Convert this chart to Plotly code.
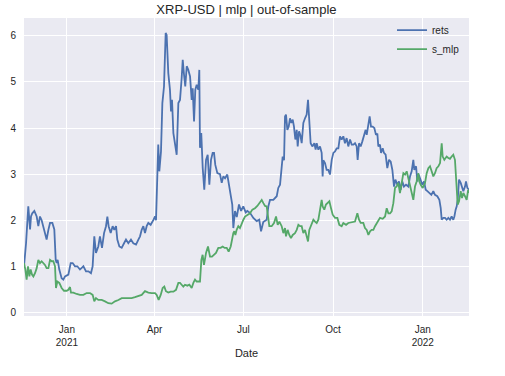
import pandas as pd
import plotly.graph_objects as go

START = "2020-11-18"

rets_day = [0, 2.1, 4.4, 6.2, 7.2, 8.5, 10.6, 13, 14.7, 16.4, 18.1, 19.8, 21.5, 23.2, 25, 26.7, 29.1, 31.1,
            32.5, 33.5, 34.5, 36.2, 38.6, 40.3, 42.1, 45.5, 47.9, 49.9, 52.3, 54.7, 57.4, 60.9, 63.6, 66,
            68.7, 70.4, 72.1, 73.8, 76.2, 77.9, 80, 82.1, 84.1, 85.5, 86.8, 88.9, 90.9, 92.6, 94.4, 95.7,
            97.8, 100.2, 102.6, 104.6, 107, 109.7, 112.1, 114.9, 117.3, 119, 120.7, 122.4, 124.1, 125.8,
            127.5, 129.9, 132.6, 134.4, 135.4,
            137.7, 138.8, 140.5, 141.9, 143.6, 145.3, 146.3, 148, 149.7, 150.8, 151.8, 153.2, 154.9, 156.6,
            158.3, 160, 161.7, 162.8, 164.1, 165.4, 166.9, 168.5, 170.3, 172, 173, 174.4, 175.7, 177.1,
            178.8, 179.8, 180.5, 181.8, 183.3, 184.9, 186.7, 188.4, 190.1, 191.8, 193.5, 194.9, 196.2,
            198.3, 201, 202.8, 204.4, 206.2, 208.5, 210.3, 212, 213.6, 214.7, 216.4, 218.2, 220.5, 222.6,
            224.9, 227.4, 229, 231.8, 235.2, 238.7, 241.3, 243.1, 245.4, 248.9, 250.6, 252.3, 255.7, 259.2,
            260.8,
            262.6, 264.3, 265.3, 266.7, 267.7, 268.7, 270.1, 271.5, 272.8, 274.2, 275.6, 276.9, 278.3,
            279.7, 280.7, 282.1, 283.4, 284.8, 286.5, 288.2, 289.9, 291.3, 292.3, 294, 295.7, 297.8, 299.1,
            300.2, 301.9, 303.6, 305.3, 306.3, 307, 308.7, 310.4, 312.1, 313.8, 315.6, 317.3, 319, 320.7,
            322.4, 324.1, 325.8, 327.5, 329.2, 330.9, 332.6, 334.4, 336.1, 337.8, 339.5, 341.2, 342.2,
            343.6, 345.3, 347, 348.7, 350.4, 351.5, 353.2, 354.5, 355.9, 357.6, 359.3, 361, 362.4, 363.4,
            365.1, 366.2, 367.9, 369.2, 370.9, 372.6, 374.4, 376.1, 377.8, 379.5, 380.9, 382.9, 384.6,
            386.3, 388, 389.7, 391.8, 394.2, 395.9, 397.6, 399.3, 400.3, 402.1, 403.4, 404.8, 406.8, 408.5,
            410.3, 412, 413.7, 415.7, 417.8, 419.8, 421.5, 423.9, 426, 427.4, 428.4, 430.1, 431.8, 433.5,
            435.2, 436.9, 438.6, 440.3, 441.4, 442.7, 443.8, 444.8, 446.2, 447.9, 449.2, 450.6, 452.3,
            453.3, 454.7, 456.4]
rets_val = [1.0, 1.5, 2.3, 1.8, 2.08, 2.15, 2.2, 2.08, 1.87, 2.08, 2.0, 1.87, 1.72, 1.58, 1.79, 1.94, 1.94, 1.8,
            1.14, 1.07, 1.14, 0.93, 0.74, 0.71, 0.78, 0.82, 1.07, 1.07, 1.0, 1.0, 0.93, 1.0, 0.89, 0.89,
            0.85, 1.0, 1.65, 1.29, 1.43, 1.65, 1.4, 1.72, 1.87, 2.08, 1.87, 1.72, 1.87, 1.79, 1.87, 1.58,
            1.43, 1.4, 1.5, 1.58, 1.5, 1.58, 1.5, 1.47, 1.58, 1.65, 1.79, 1.87, 1.72, 1.87,
            1.94, 1.9, 2.0, 2.08, 2.0,
            3.64, 3.06, 3.49, 4.54, 4.9, 6.06, 6.02, 5.19, 4.83, 4.36, 4.61, 3.89, 3.67, 3.42,
            4.54, 4.61, 5.08, 5.48, 5.16, 4.9, 5.34, 5.26, 5.12, 4.61, 4.86, 4.14, 4.83, 4.94,
            4.83, 5.26, 3.57, 3.89, 3.13, 2.66, 3.31, 3.42, 2.77, 3.31, 3.46, 3.46, 3.2,
            3.02, 3.0, 2.81, 2.95, 2.91, 2.99, 2.77, 2.59, 2.34, 1.83, 2.2, 2.07, 2.34, 2.2,
            2.3, 2.17, 2.2, 2.16, 2.05, 1.98, 2.01, 1.76, 1.96, 2.01, 2.3, 2.44, 2.44, 2.52,
            2.7,
            2.77, 3.09, 3.38, 3.3, 4.25, 4.29, 3.96, 4.03, 4.21, 4.11, 4.18, 4.03, 3.75,
            3.96, 3.6, 3.93, 3.85, 3.67, 4.11, 4.21, 4.29, 4.61, 4.18, 3.67, 3.6, 3.67, 3.53,
            3.67, 3.53, 3.6, 3.46, 2.95, 3.3, 3.24, 3.09, 3.09, 2.99, 3.31, 3.46, 3.49, 3.56,
            3.56, 3.82, 3.75, 3.82, 3.67, 3.78, 3.6, 3.75, 3.64, 3.64, 3.67, 3.6, 3.31,
            3.67, 3.6, 3.71, 3.82, 3.96, 3.85, 4.03, 4.25, 4.03, 4.03, 4.0, 3.85, 3.88, 3.6,
            3.64, 3.46, 3.56, 3.46, 3.42, 3.13, 3.31, 3.27, 3.09, 2.73, 2.88, 2.77, 2.84,
            2.66, 2.84, 2.73, 2.77, 2.73, 2.95, 3.06, 3.31, 3.09, 3.17, 2.84, 2.99, 2.88, 2.77,
            2.84, 2.66, 2.63, 2.59, 2.55, 2.63, 2.55, 2.52, 2.44, 2.26, 2.01, 2.05, 2.05, 2.01,
            2.05, 2.01, 2.08, 2.01, 2.08, 2.23, 2.3, 2.44, 2.88, 2.81, 2.73, 2.63, 2.73,
            2.84, 2.7, 2.66]

mlp_day = [0, 1.4, 2.7, 4.1, 5.5, 6.8, 8.2, 9.6, 11.3, 13, 14.7, 16.4, 18.1, 19.8, 21.5, 23.2, 25, 26.7, 28.4,
           30.1, 31.8, 32.8, 34.2, 36.2, 38.6, 41, 43.8, 45.5, 47.2, 48.2, 50.6, 54, 57.4, 60.9, 64.3, 67.7,
           70.4, 72.1, 73.8, 76.2, 79.7, 83.1, 86.5, 89.9, 93.3, 96.8, 100.2, 103.6, 107, 110.4, 113.8,
           117.3, 120.7, 124.1, 127.5, 130.9, 134.4, 136.1, 138.1, 140.2, 142.2, 143.9, 145.6, 148, 150.4,
           153.2, 155.9, 158.3, 160, 161.7, 163.4, 165.1, 167.5, 169.6, 172, 173.7, 175.4, 177.1, 178.8,
           180.5, 181.9, 183.2, 184.6, 186.7, 188.7, 190.8, 192.8, 194.9, 196.9, 199.3, 201.7, 203.8,
           205.8, 207.9, 209.9, 212, 213.7, 214.7, 215.7, 216.8, 218.1, 219.8, 221.5, 223.2, 225, 226.7,
           229.1, 231.8, 234.2, 236.9, 239.3, 241.4, 243.8, 245.5, 247.2, 248.9, 250.6, 251.6, 254, 256.4,
           258.5, 260.2, 261.9, 264.3, 266, 267.7, 268.7, 270.4, 272.1, 273.8, 275.6, 277.9, 279.7, 281.4,
           283.1, 284.8, 286.5, 288.2, 289.9, 291.3, 292.6, 294.4, 296.8, 298.5, 300.2, 301.9, 303.6,
           305.3, 306.3, 308, 309.7, 311.5, 313.2, 314.9, 316.6, 319, 321.4, 323.4, 325.8, 327.5, 330.3,
           332.6, 336.1, 339.5, 341.9, 343.6, 345.3, 348, 349.7, 351.5, 353.2, 354.9, 356.6, 358.3, 360,
           361.7, 363.4, 365.1, 367.9, 370.3, 372, 373.7, 375.4, 377.1, 378.8, 380.5, 382.2, 383.9, 385.6,
           387.4, 389.1, 390.8, 392.5, 394.2, 395.9, 397.9, 399.3, 401, 402.7, 404.4, 405.5, 406.8, 408.9,
           411.3, 413, 414.7, 416.4, 418.1, 419.8, 421.5, 423.2, 425, 426.7, 428.4, 429.4, 431.1, 433.5,
           435.2, 436.9, 438.6, 440.3, 442, 443.8, 444.8, 446.2, 447.9, 449.2, 450.6, 452.3, 454, 455.5,
           456.4]
mlp_val = [1.07, 0.93, 0.71, 1.0, 0.78, 0.93, 0.82, 0.78, 0.85, 0.96, 1.14, 1.07, 1.11, 1.07, 1.03, 0.96, 0.96,
           1.14, 1.11, 1.11, 1.0, 0.53, 0.67, 0.64, 0.53, 0.47, 0.47, 0.49, 0.55, 0.43, 0.43, 0.4, 0.38, 0.38,
           0.42, 0.42, 0.38, 0.24, 0.31, 0.27, 0.27, 0.24, 0.2, 0.19, 0.24, 0.27, 0.31, 0.31, 0.31, 0.31, 0.33,
           0.35, 0.38, 0.46, 0.43, 0.42, 0.42, 0.38, 0.27, 0.38, 0.53, 0.56, 0.46, 0.43, 0.45,
           0.45, 0.49, 0.64, 0.64, 0.6, 0.56, 0.6, 0.58, 0.6, 0.53, 0.64, 0.71, 0.67, 0.67,
           0.67, 1.14, 1.25, 1.03, 1.29, 1.43, 1.21, 1.21, 1.25, 1.29, 1.4, 1.4, 1.43,
           1.4, 1.4, 1.32, 1.43, 1.65, 1.72, 1.76, 1.68, 1.79, 1.87, 1.83, 1.94, 2.01, 2.08,
           2.12, 2.15, 2.23, 2.26, 2.31, 2.36, 2.44, 2.37, 2.31, 2.3, 2.08, 1.87, 1.87, 1.94,
           2.08, 1.9, 1.97, 1.87, 1.72, 1.83, 1.65, 1.79, 1.68, 1.61, 1.68, 1.72, 1.79, 1.9,
           1.87, 1.87, 1.72, 1.79, 1.65, 1.54, 1.79, 1.9, 2.01, 1.97, 1.94, 2.01, 2.23,
           2.44, 2.3, 2.23, 2.34, 2.37, 2.41, 2.26, 2.12, 2.05, 2.05, 1.9, 1.87, 1.94, 1.9,
           1.94, 1.95, 1.97, 2.15, 2.01, 1.94, 1.94, 1.83, 1.79, 1.68, 1.76, 1.79, 1.79, 1.87,
           1.94, 2.01, 2.05, 2.03, 2.08, 2.26, 2.15, 2.15, 2.19, 2.37, 2.7, 2.73, 2.81, 2.59,
           2.84, 3.02, 2.99, 3.06, 2.91, 2.73, 2.59, 2.44, 2.73, 2.84, 3.02, 2.84, 2.77, 2.7,
           2.81, 3.02, 3.13, 3.17, 3.06, 2.95, 3.02, 3.13, 3.17, 3.24, 3.67, 3.38, 3.31, 3.38,
           3.35, 3.33, 3.38, 3.42, 3.31, 2.73, 2.34, 2.41, 2.63, 2.48, 2.59, 2.52, 2.44, 2.66,
           2.59]

tick_dates = ["2021-01-01", "2021-04-01", "2021-07-01", "2021-10-01", "2022-01-01"]
tick_text = ["Jan<br>2021", "Apr", "Jul", "Oct", "Jan<br>2022"]
y_ticks = [0, 1, 2, 3, 4, 5, 6]

start = pd.Timestamp(START)
rets_x = start + pd.to_timedelta(rets_day, unit="D")
mlp_x = start + pd.to_timedelta(mlp_day, unit="D")

FONT = "Liberation Sans, Arial, sans-serif"
TXT = "#262626"

fig = go.Figure()
fig.add_trace(go.Scatter(x=rets_x, y=rets_val, mode="lines", name="rets",
                         line=dict(color="#4C72B0", width=1.8)))
fig.add_trace(go.Scatter(x=mlp_x, y=mlp_val, mode="lines", name="s_mlp",
                         line=dict(color="#55A868", width=1.8)))

fig.update_layout(
    width=505, height=376,
    margin=dict(l=24, r=36, t=18, b=60, autoexpand=False),
    paper_bgcolor="white",
    plot_bgcolor="#EAEAF2",
    font=dict(family=FONT, size=10, color=TXT),
    title=dict(text="XRP-USD | mlp | out-of-sample", x=0.488, xanchor="center",
               y=0.976, yanchor="middle", font=dict(size=13, color=TXT)),
    showlegend=True,
    legend=dict(x=0.827, y=1.008, xanchor="left", yanchor="top",
                bgcolor="rgba(0,0,0,0)", font=dict(size=10, color=TXT),
                tracegroupgap=0),
    xaxis=dict(
        range=[rets_x[0], rets_x[-1]],
        tickvals=tick_dates, ticktext=tick_text,
        showgrid=True, gridcolor="white", gridwidth=1.3,
        zeroline=False, showline=False, ticks="",
        tickfont=dict(size=10, color=TXT),
        ticklabelstandoff=6,
        title=dict(text="Date", font=dict(size=11, color=TXT), standoff=2),
    ),
    yaxis=dict(
        range=[-0.078, 6.386],
        tickvals=y_ticks,
        showgrid=True, gridcolor="white", gridwidth=1.3,
        zeroline=False, showline=False, ticks="",
        tickfont=dict(size=10, color=TXT),
        ticklabelstandoff=7,
    ),
)

fig.write_html("out.html", config={"displayModeBar": False},
               post_script="document.body.style.margin='0';")
